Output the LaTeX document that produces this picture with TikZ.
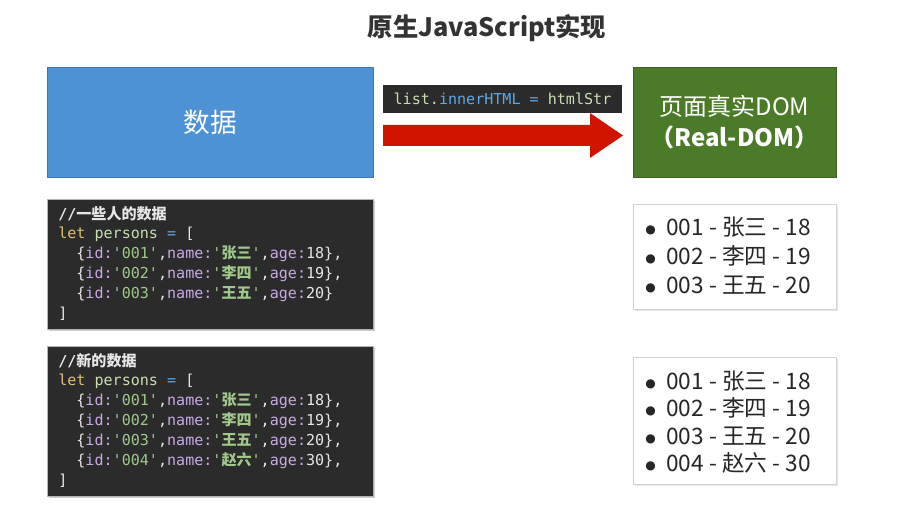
\documentclass[tikz,border=0pt]{standalone}
\usepackage{fontspec}
\setmainfont{Noto Sans CJK SC}
\newfontfamily\cjk{Noto Sans CJK SC}
\newfontfamily\dv{DejaVu Sans}
\setmonofont{DejaVu Sans Mono}
\begin{document}
\definecolor{codebg}{HTML}{2B2B2B}
\definecolor{kwc}{HTML}{E0C070}
\definecolor{varc}{HTML}{C8E0B0}
\definecolor{opc}{HTML}{5BA8E8}
\definecolor{propc}{HTML}{C9A8E6}
\definecolor{strc}{HTML}{9FC98A}
\definecolor{brc}{HTML}{E6E6E6}
\definecolor{bluebox}{HTML}{4E92D6}
\definecolor{greenbox}{HTML}{4B7A29}
\definecolor{arrowred}{HTML}{D01400}
\newcommand{\K}[1]{\textcolor{kwc}{#1}}
\newcommand{\V}[1]{\textcolor{varc}{#1}}
\newcommand{\Op}[1]{\textcolor{opc}{#1}}
\newcommand{\Pp}[1]{\textcolor{propc}{#1}}
\newcommand{\St}[1]{\textcolor{strc}{#1}}
\newcommand{\Br}[1]{\textcolor{brc}{#1}}
\newcommand{\Obj}[4]{\Br{\{}\Pp{id:}\St{'#1'}\Br{,}\Pp{name:}\St{'{\cjk\bfseries #2}'}\Br{,}\Pp{age:}\Br{#3\}#4}}
\newcommand{\bul}{\raisebox{1.5pt}{\dv\fontsize{9pt}{10pt}\selectfont●}\hspace{8pt}}
\begin{tikzpicture}[x=0.75pt,y=-0.75pt,
  codebox/.style={fill=codebg,draw=gray!60,line width=0.6pt},
  listbox/.style={fill=white,draw=gray!35,line width=0.6pt},
  codeline/.style={anchor=west,inner sep=0pt,font=\ttfamily\fontsize{11.3pt}{12pt}\selectfont},
  listline/.style={anchor=west,inner sep=0pt,font=\fontsize{17pt}{18pt}\selectfont,text=black!85}]
\useasboundingbox[fill=white] (0,0) rectangle (907,505);
\node[font=\bfseries\fontsize{19pt}{20pt}\selectfont,text=black!80] (title) at (487,28) {原生JavaScript实现};
\node[fill=bluebox,draw=bluebox!80!black,minimum width=326*0.75pt,minimum height=110*0.75pt,
  font=\fontsize{20pt}{22pt}\selectfont,text=white] (data) at (210,122) {数据};
\node[fill=greenbox,draw=greenbox!80!black,minimum width=203*0.75pt,minimum height=110*0.75pt,
  align=center,text=white,font=\fontsize{18pt}{23pt}\selectfont] (dom) at (734.5,122) {页面真实DOM\\{\bfseries（Real-DOM）}};
\node[fill=codebg,minimum width=239*0.75pt,minimum height=28*0.75pt,
  font=\ttfamily\fontsize{11.3pt}{12pt}\selectfont] (lbl) at (502.5,99) {\V{list.}\Op{innerHTML}\ \Op{=}\ \V{htmlStr}};
\fill[arrowred] (383,125) -- (590,125) -- (590,113) -- (623,135.5) -- (590,158) -- (590,146) -- (383,146) -- cycle;
% code box 1
\fill[gray!40] (49,201) rectangle (375,331);
\node[codebox,minimum width=326*0.75pt,minimum height=130*0.75pt] (code1) at (210,264) {};
\node[codeline] (c1a) at (58,214) {\Br{\bfseries//{\cjk 一些人的数据}}};
\node[codeline] (c1b) at (58,234) {\K{let} \V{persons} \Op{=} \Br{[}};
\node[codeline] (c1c) at (58,254) {\ \ \Obj{001}{张三}{18}{,}};
\node[codeline] (c1d) at (58,274) {\ \ \Obj{002}{李四}{19}{,}};
\node[codeline] (c1e) at (58,294) {\ \ \Obj{003}{王五}{20}{}};
\node[codeline] (c1f) at (58,314) {\Br{]}};
% code box 2
\fill[gray!40] (49,348) rectangle (375,498);
\node[codebox,minimum width=326*0.75pt,minimum height=150*0.75pt] (code2) at (210,421) {};
\node[codeline] (c2a) at (58,361) {\Br{\bfseries//{\cjk 新的数据}}};
\node[codeline] (c2b) at (58,381) {\K{let} \V{persons} \Op{=} \Br{[}};
\node[codeline] (c2c) at (58,401) {\ \ \Obj{001}{张三}{18}{,}};
\node[codeline] (c2d) at (58,421) {\ \ \Obj{002}{李四}{19}{,}};
\node[codeline] (c2e) at (58,441) {\ \ \Obj{003}{王五}{20}{,}};
\node[codeline] (c2f) at (58,461) {\ \ \Obj{004}{赵六}{30}{,}};
\node[codeline] (c2g) at (58,481) {\Br{]}};
% list 1
\fill[gray!20] (635,206) rectangle (838,311);
\node[listbox,minimum width=203*0.75pt,minimum height=105*0.75pt] (list1) at (734.5,256.5) {};
\node[listline] (l1a) at (645,227) {\bul 001 - 张三 - 18};
\node[listline] (l1b) at (645,256) {\bul 002 - 李四 - 19};
\node[listline] (l1c) at (645,285) {\bul 003 - 王五 - 20};
% list 2
\fill[gray!20] (635,359) rectangle (838,486);
\node[listbox,minimum width=203*0.75pt,minimum height=127*0.75pt] (list2) at (734.5,420.5) {};
\node[listline] (l2a) at (645,381) {\bul 001 - 张三 - 18};
\node[listline] (l2b) at (645,408) {\bul 002 - 李四 - 19};
\node[listline] (l2c) at (645,436) {\bul 003 - 王五 - 20};
\node[listline] (l2d) at (645,463) {\bul 004 - 赵六 - 30};
\end{tikzpicture}
\end{document}
